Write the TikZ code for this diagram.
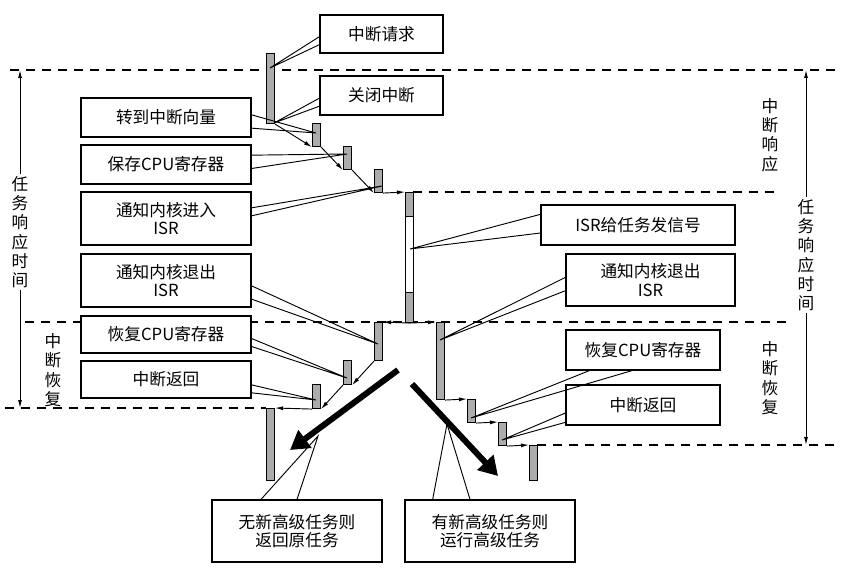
\documentclass[tikz,border=0pt]{standalone}
\usepackage{fontspec}
\setmainfont{Noto Sans CJK SC}
\usetikzlibrary{arrows.meta}
\tikzset{
  bar/.style={draw,fill=gray!65,line width=0.8pt,minimum width=6pt,inner sep=0pt},
  box/.style={draw,fill=white,line width=0.9pt,align=center,inner sep=0pt,font=\fontsize{12.5}{14}\selectfont},
  border/.style={dash pattern=on 7pt off 5pt,line width=0.8pt},
  flow/.style={-{Latex[length=6pt,width=3pt]},line width=0.7pt},
  big/.style={-{Triangle[length=14pt,width=16pt]},line width=4.5pt},
  vlabel/.style={align=center,inner sep=1pt,font=\fontsize{12.5}{14.5}\selectfont},
  wedge/.style={line width=0.7pt}
}
\newcommand\taskbar[4]{\node[bar,minimum height={(#4-#3)*0.75pt},anchor=north west] (#1) at (#2,#3) {};}
\newcommand\tbox[6]{\node[box,minimum width={(#4-#2)*0.75pt},minimum height={(#5-#3)*0.75pt}] (#1) at ({(#2+#4)/2},{(#3+#5)/2}) {#6};}
\begin{document}
\begin{tikzpicture}[x=0.75pt,y=-0.75pt]
\useasboundingbox (0,0) rectangle (845,574);

% dashed borders
\draw[border] (10,70) -- (840,70);
\draw[border] (413,192) -- (775,192);
\draw[border] (25,322) -- (790,322);
\draw[border] (5,408) -- (266,408);
\draw[border] (537,445) -- (840,445);

% bars
\taskbar{b1}{266}{53}{123}
\taskbar{b2}{312}{123}{146}
\taskbar{b3}{343}{146}{169}
\taskbar{b4}{374}{169}{192}
\taskbar{isr}{405}{192}{322}
\node[draw,fill=white,line width=0.8pt,minimum width=6pt,minimum height={76*0.75pt},inner sep=0pt,anchor=north west] (sig) at (405,216) {};
\taskbar{l1}{374}{322}{360}
\taskbar{l2}{343}{360}{384}
\taskbar{l3}{312}{384}{408}
\taskbar{l4}{266}{408}{480}
\taskbar{r1}{436}{322}{399}
\taskbar{r2}{467}{399}{422}
\taskbar{r3}{498}{422}{445}
\taskbar{r4}{529}{445}{480}

% steps
\draw[flow] (b1.south east) -- (b2.south west);
\draw[flow] (b2.south east) -- (b3.south west);
\draw[flow] (b3.south east) -- (b4.south west);
\draw[flow] (b4.south east) -- (isr.north west);
\draw[flow] (isr.south) -- (l1.north east);
\draw[flow] (isr.south) -- (r1.north west);
\draw[flow] (l1.south west) -- (l2.south east);
\draw[flow] (l2.south west) -- (l3.south east);
\draw[flow] (l3.south west) -- (l4.north east);
\draw[flow] (r1.south east) -- (r2.north west);
\draw[flow] (r2.south east) -- (r3.north west);
\draw[flow] (r3.south east) -- (r4.north west);

% labels
\tbox{req}{320}{15}{443}{53}{中断请求}
\tbox{off}{320}{76}{443}{115}{关闭中断}
\tbox{vec}{81}{98}{251}{137}{转到中断向量}
\tbox{save}{81}{145}{251}{184}{保存CPU寄存器}
\tbox{enter}{81}{192}{251}{245}{通知内核进入\\ISR}
\tbox{exitl}{81}{254}{251}{307}{通知内核退出\\ISR}
\tbox{restl}{81}{316}{251}{353}{恢复CPU寄存器}
\tbox{retl}{81}{361}{251}{398}{中断返回}
\tbox{post}{541}{205}{735}{245}{ISR给任务发信号}
\tbox{exitr}{566}{254}{735}{306}{通知内核退出\\ISR}
\tbox{restr}{566}{330}{720}{370}{恢复CPU寄存器}
\tbox{retr}{566}{385}{720}{425}{中断返回}
\tbox{old}{212}{500}{382}{562}{无新高级任务则\\返回原任务}
\tbox{new}{405}{500}{575}{562}{有新高级任务则\\运行高级任务}

% callouts
\coordinate (t1) at (270,68);
\coordinate (t2) at (274,123);
\coordinate (t3) at (316,133);
\coordinate (t4) at (347,154);
\coordinate (t5) at (382,186);
\coordinate (t6) at (410,249);
\coordinate (t7) at (378,344);
\coordinate (t8) at (440,340);
\coordinate (t9) at (347,378);
\coordinate (t10) at (316,400);
\coordinate (t11) at (471,418);
\coordinate (t12) at (502,440);
\coordinate (t13) at (318,436);
\coordinate (t14) at (447,424);
\draw[wedge] ([yshift=-2pt]req.west) -- (t1) -- ([yshift=-8pt]req.west);
\draw[wedge] ([yshift=-2pt]off.west) -- (t2) -- ([yshift=-8pt]off.west);
\draw[wedge] ([yshift=2pt]vec.east) -- (t3) -- ([yshift=-8pt]vec.east);
\draw[wedge] ([yshift=7pt]save.east) -- (t4) -- ([yshift=-3pt]save.east);
\draw[wedge] ([yshift=8pt]enter.east) -- (t5) -- ([yshift=2pt]enter.east);
\draw[wedge] ([yshift=8pt]post.west) -- (t6) -- ([yshift=-6pt]post.west);
\draw[wedge] ([yshift=-4pt]exitl.east) -- (t7) -- ([yshift=-14pt]exitl.east);
\draw[wedge] ([yshift=2pt]exitr.west) -- (t8) -- ([yshift=-8pt]exitr.west);
\draw[wedge] ([yshift=-3pt]restl.east) -- (t9) -- ([yshift=-9pt]restl.east);
\draw[wedge] ([yshift=-4pt]retl.east) -- (t10) -- ([yshift=-10pt]retl.east);
\draw[wedge] ([xshift=18pt]restr.south west) -- (t11) -- ([xshift=50pt]restr.south west);
\draw[wedge] ([yshift=-6pt]retr.west) -- (t12) -- ([yshift=-13pt]retr.west);
\draw[wedge] ([xshift=-27pt]old.north) -- (t13) -- ([xshift=0pt]old.north);
\draw[wedge] ([xshift=-43pt]new.north) -- (t14) -- ([xshift=-15pt]new.north);

% branch arrows
\coordinate (fork1) at (398,370);
\coordinate (fork2) at (412,384);
\coordinate (down1) at (290,450);
\coordinate (down2) at (498,476);
\draw[big] (fork1) -- (down1);
\draw[big] (fork2) -- (down2);

% time spans
\node[vlabel] (spanl) at (20,232) {任\\务\\响\\应\\时\\间};
\coordinate (topl) at (20,70);
\coordinate (botl) at (20,408);
\draw[flow] (spanl.north) -- (topl);
\draw[flow] (spanl.south) -- (botl);
\node[vlabel] (recl) at (53,370) {中\\断\\恢\\复};
\node[vlabel] (spanr) at (806,255) {任\\务\\响\\应\\时\\间};
\coordinate (topr) at (806,70);
\coordinate (botr) at (806,445);
\draw[flow] (spanr.north) -- (topr);
\draw[flow] (spanr.south) -- (botr);
\node[vlabel] (respr) at (770,135) {中\\断\\响\\应};
\node[vlabel] (recr) at (770,378) {中\\断\\恢\\复};
\end{tikzpicture}
\end{document}
